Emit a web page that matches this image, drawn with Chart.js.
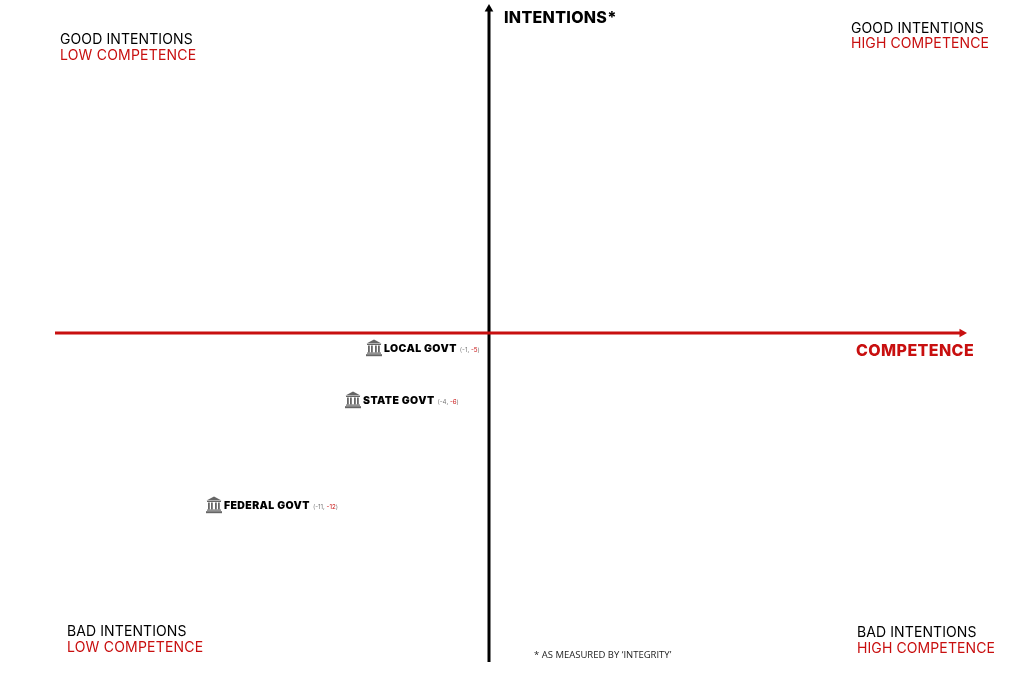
<!DOCTYPE html>
<html>
<head>
<meta charset="utf-8">
<title>Intentions vs competence</title>
<script src="https://cdn.jsdelivr.net/npm/chart.js@4"></script>
<style>
  html, body { margin: 0; padding: 0; background: #fff; overflow: hidden; }
  canvas { display: block; }
</style>
</head>
<body>
<canvas id="grafico" width="1024" height="677"></canvas>
<script>
// Data, in axis units (10 units = 100 px on the picture)
const categories = ["LOCAL GOVT", "STATE GOVT", "FEDERAL GOVT"];
const competence = [-11.5, -13.6, -27.5];
const intentions = [-1.5, -6.7, -17.2];
const scoreCompetence = ["-1", "-4", "-11"];
const scoreIntentions = ["-5", "-6", "-12"];

// Axis lines, from tail to arrow tip
const axisX = [-43.4, 47.3];
const axisY = [-32.9, 32.4];

const RED = "#c80f0f";
const BLACK = "#000000";
const GREY = "#7a7a7a";
const FONT = "Inter, 'Open Sans', sans-serif";

// Icon of the institutions, used as pointStyle
function bankIcon() {
  const c = document.createElement("canvas");
  c.width = 18;
  c.height = 18;
  const g = c.getContext("2d");
  g.fillStyle = "#666666";
  g.beginPath();
  g.moveTo(9, 0.5);
  g.lineTo(16.5, 4.5);
  g.lineTo(1.5, 4.5);
  g.closePath();
  g.fill();
  g.fillRect(2, 5, 14, 1);
  [3, 6, 10, 13].forEach(x => g.fillRect(x, 6.5, 1.8, 7));
  g.fillRect(2, 13.5, 14, 1.2);
  g.fillRect(1, 15.2, 16, 2);
  return c;
}

// Text helper
function texto(ctx, str, x, y, font, color, spacing) {
  ctx.font = font;
  ctx.fillStyle = color;
  ctx.letterSpacing = (spacing || 0) + "px";
  ctx.textAlign = "left";
  ctx.textBaseline = "middle";
  ctx.fillText(str, x, y);
  return ctx.measureText(str).width;
}

// Labels of the points and of the quadrants
const etiquetas = {
  id: "etiquetas",
  afterDatasetsDraw(chart) {
    const ctx = chart.ctx;
    const sx = chart.scales.x, sy = chart.scales.y;
    ctx.save();

    categories.forEach((cat, i) => {
      const px = sx.getPixelForValue(competence[i]) + 10;
      const py = sy.getPixelForValue(intentions[i]) + 1;
      let w = texto(ctx, cat, px, py, "900 10.5px " + FONT, BLACK, 0.4);
      let x = px + w + 3;
      x += texto(ctx, "(" + scoreCompetence[i] + ", ", x, py + 1, "400 6.2px " + FONT, GREY);
      x += texto(ctx, scoreIntentions[i], x, py + 1, "400 6.2px " + FONT, RED);
      texto(ctx, ")", x, py + 1, "400 6.2px " + FONT, GREY);
    });

    const q = "400 14px " + FONT;
    texto(ctx, "GOOD INTENTIONS", 60, 40, q, BLACK, 0.1);
    texto(ctx, "LOW COMPETENCE", 60, 56, q, RED, 0.2);
    texto(ctx, "GOOD INTENTIONS", 851, 29, q, BLACK, 0.1);
    texto(ctx, "HIGH COMPETENCE", 851, 44, q, RED, 0.1);
    texto(ctx, "BAD INTENTIONS", 67, 632, q, BLACK, 0.1);
    texto(ctx, "LOW COMPETENCE", 67, 648, q, RED, 0.2);
    texto(ctx, "BAD INTENTIONS", 857, 633, q, BLACK, 0.1);
    texto(ctx, "HIGH COMPETENCE", 857, 649, q, RED, 0.1);

    texto(ctx, "INTENTIONS*", 504, 18, "800 16px " + FONT, BLACK, 0.3);
    texto(ctx, "COMPETENCE", 856, 351, "800 16px " + FONT, RED, 0.4);
    texto(ctx, "* AS MEASURED BY \u2018INTEGRITY\u2019", 534, 655, "400 9.5px 'Open Sans', sans-serif", "#222222");
    ctx.restore();
  }
};

new Chart(document.getElementById("grafico"), {
  type: "scatter",
  data: {
    datasets: [
      {
        label: "Competence",
        data: axisX.map(v => ({ x: v, y: 0 })),
        showLine: true,
        borderColor: RED,
        backgroundColor: RED,
        borderWidth: 3,
        pointStyle: "triangle",
        rotation: 90,
        pointRadius: [0, 5],
        pointBorderWidth: 0
      },
      {
        label: "Intentions",
        data: axisY.map(v => ({ x: 0, y: v })),
        showLine: true,
        borderColor: BLACK,
        backgroundColor: BLACK,
        borderWidth: 3,
        pointStyle: "triangle",
        pointRadius: [0, 5],
        pointBorderWidth: 0
      },
      {
        label: "Govt",
        data: categories.map((c, i) => ({ x: competence[i], y: intentions[i] })),
        pointStyle: bankIcon(),
        pointRadius: 9
      }
    ]
  },
  options: {
    responsive: false,
    animation: false,
    layout: { padding: 0, autoPadding: false },
    plugins: { legend: { display: false }, tooltip: { enabled: false } },
    scales: {
      x: { type: "linear", min: -48.9, max: 53.5, display: false },
      y: { type: "linear", min: -34.4, max: 33.3, display: false }
    }
  },
  plugins: [etiquetas]
});
</script>
</body>
</html>
